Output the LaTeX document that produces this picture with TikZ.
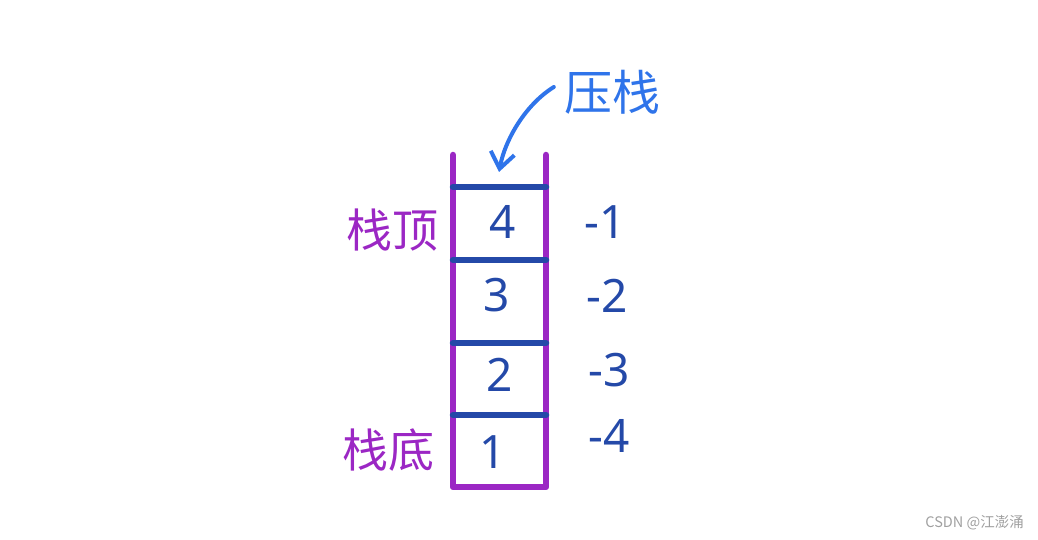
\documentclass[tikz,border=0pt]{standalone}
\usepackage{fontspec}
\setmainfont{Noto Sans}
\newfontfamily\cjk{Noto Sans CJK SC}
\usetikzlibrary{arrows.meta}
\definecolor{stackpurple}{HTML}{9B27C4}
\definecolor{darkblue}{HTML}{2449A8}
\definecolor{lightblue}{HTML}{2F74EA}
\definecolor{wmgray}{HTML}{A0A0A0}
\begin{document}
\begin{tikzpicture}[x=1pt,y=-1pt,
  wall/.style={draw=stackpurple,line width=6.5pt,line cap=round,line join=round},
  sep/.style={draw=darkblue,line width=6.5pt,line cap=round},
  num/.style={text=darkblue,font=\fontsize{46}{46}\selectfont,inner sep=0pt},
  idx/.style={text=darkblue,font=\fontsize{46}{46}\selectfont,inner sep=0pt},
  side/.style={text=stackpurple,font=\cjk\fontsize{46}{46}\selectfont,inner sep=0pt},
  push/.style={text=lightblue,font=\cjk\fontsize{48}{48}\selectfont,inner sep=0pt}]
\useasboundingbox (0,0) rectangle (1038,540);
\coordinate (tl) at (453,155);
\coordinate (bl) at (453,487);
\coordinate (br) at (546,487);
\coordinate (tr) at (546,155);
\draw[wall] (tl) -- (bl) -- (br) -- (tr);
\foreach \y/\n in {187/a,260/b,343/c,415/d}{
  \coordinate (l\n) at (453,\y);
  \coordinate (r\n) at (546,\y);
  \draw[sep] (l\n) -- (r\n);
}
\node[num] (n4) at (503,222) {4};
\node[num] (n3) at (497,295) {3};
\node[num] (n2) at (500,375) {2};
\node[num] (n1) at (493,452) {1};
\node[idx] (i1) at (605,222) {-1};
\node[idx] (i2) at (607,296) {-2};
\node[idx] (i3) at (609,370) {-3};
\node[idx] (i4) at (609,436) {-4};
\node[side] (top) at (392,230) {栈顶};
\node[side] (bot) at (388,450) {栈底};
\node[push] (pu) at (612,92) {压栈};
\coordinate (tip) at (499,172);
\draw[lightblue,line width=4pt,line cap=round,-{Straight Barb[length=16pt,width=24pt,line width=4pt]}]
  (pu.west) ++(-10,-5) .. controls (525,105) and (505,140) .. (tip);
\node[text=wmgray,font=\cjk\fontsize{14.5}{14.5}\selectfont,anchor=east,inner sep=0pt] (wm) at (1024,523) {CSDN @江澎涌};
\end{tikzpicture}
\end{document}
